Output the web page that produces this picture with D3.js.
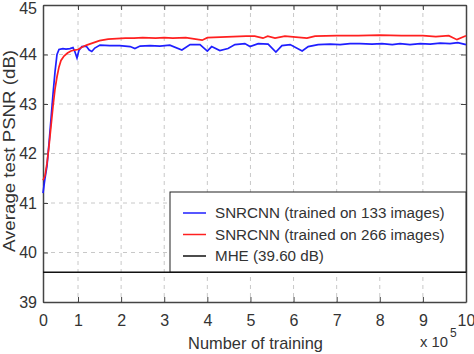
<!DOCTYPE html>
<html><head><meta charset="utf-8">
<script src="https://cdn.jsdelivr.net/npm/d3@7"></script>
<style>body{margin:0;background:#fff}svg text{font-family:"Liberation Sans",Arial,sans-serif;fill:#333}</style>
</head><body><svg id="c" width="474" height="354"></svg>
<script>
const xTicks=[0,1,2,3,4,5,6,7,8,9,10];
const yTicks=[39,40,41,42,43,44,45];
const blueX=[0,0.057,0.114,0.171,0.229,0.286,0.343,0.4,0.457,0.571,0.657,0.771,0.857,0.914,0.971,1.02,1.09,1.19,1.26,1.32,1.39,1.51,1.74,1.97,2.21,2.32,2.44,2.67,2.9,3.13,3.41,3.6,3.83,4.0,4.1,4.29,4.48,4.64,4.87,4.99,5.18,5.41,5.59,5.73,5.92,6.2,6.34,6.57,6.85,7.08,7.31,7.54,7.82,8.05,8.29,8.47,8.7,8.94,9.17,9.4,9.63,9.81,10];
const blueY=[41.2,41.5,41.75,42.2,42.7,43.2,43.65,44.0,44.1,44.12,44.11,44.12,44.14,44.05,43.93,44.08,44.16,44.17,44.09,44.06,44.13,44.19,44.18,44.18,44.16,44.12,44.17,44.18,44.17,44.19,44.09,44.2,44.2,44.07,44.16,44.08,44.12,44.2,44.22,44.16,44.22,44.21,44.05,44.18,44.2,44.07,44.16,44.2,44.21,44.2,44.22,44.22,44.21,44.22,44.2,44.22,44.2,44.22,44.21,44.23,44.22,44.24,44.2];
const redX=[0,0.057,0.114,0.171,0.229,0.286,0.343,0.4,0.457,0.514,0.6,0.7,0.8,0.9,1.0,1.1,1.2,1.3,1.4,1.5,1.7,1.9,2.1,2.3,2.5,2.8,3.0,3.2,3.5,3.88,4.0,4.3,4.6,4.9,5.1,5.29,5.4,5.57,5.8,6.31,6.5,7.0,7.5,8.0,8.5,9.0,9.3,9.6,9.79,10];
const redY=[41.46,41.55,41.8,42.15,42.55,42.95,43.3,43.55,43.75,43.88,43.97,44.03,44.07,44.09,44.1,44.15,44.19,44.22,44.25,44.28,44.31,44.32,44.33,44.33,44.34,44.33,44.34,44.33,44.34,44.29,44.34,44.35,44.36,44.37,44.37,44.33,44.37,44.33,44.37,44.33,44.37,44.38,44.38,44.39,44.38,44.38,44.36,44.38,44.3,44.38];
const mheValue=39.60;
const legendLabels=["SNRCNN (trained on 133 images)","SNRCNN (trained on 266 images)","MHE (39.60 dB)"];
const colors=["#1f1fff","#ff2020","#111"];

const svg=d3.select("#c");
const L=43,R=466,T=5,B=302;
const x=d3.scaleLinear().domain([0,1,10]).range([L,78,R]);
const y=d3.scaleLinear().domain([39,45]).range([B,T]);
const FF="'Liberation Sans',Arial,sans-serif";

// grid
const g=svg.append("g");
g.selectAll(".gx").data(xTicks.slice(1,-1)).join("line").attr("x1",d=>x(d)).attr("x2",d=>x(d)).attr("y1",T).attr("y2",B)
 .attr("stroke","#c8c8c8").attr("stroke-dasharray","4,4").attr("stroke-width",1);
g.selectAll(".gy").data(yTicks.slice(1,-1)).join("line").attr("y1",d=>y(d)).attr("y2",d=>y(d)).attr("x1",L).attr("x2",R)
 .attr("stroke","#c8c8c8").attr("stroke-dasharray","4,4").attr("stroke-width",1);

// axes with inward ticks
const ax=(gen,tr)=>svg.append("g").attr("transform",tr).call(gen);
const fmt=d3.format("d");
const xb=ax(d3.axisBottom(x).tickValues(xTicks).tickSizeInner(-5).tickSizeOuter(0).tickPadding(13).tickFormat(fmt),`translate(0,${B})`);
const xt=ax(d3.axisTop(x).tickValues(xTicks).tickSizeInner(-5).tickSizeOuter(0).tickFormat(""),`translate(0,${T})`);
const yl=ax(d3.axisLeft(y).tickValues(yTicks).tickSizeInner(-5).tickSizeOuter(0).tickPadding(6).tickFormat(fmt),`translate(${L},0)`);
const yr=ax(d3.axisRight(y).tickValues(yTicks).tickSizeInner(-5).tickSizeOuter(0).tickFormat(""),`translate(${R},0)`);
[xb,xt,yl,yr].forEach(a=>{a.selectAll("path").attr("stroke","#444").attr("stroke-width",1.5);
 a.selectAll("line").attr("stroke","#444").attr("stroke-width",1);
 a.selectAll("text").attr("font-size",16).attr("fill","#333").style("font-family",FF);});
yl.selectAll(".tick text").filter(d=>d===45).attr("y",3);

// data lines
const line=d3.line().x(d=>x(d[0])).y(d=>y(d[1]));
const dl=svg.append("g");
dl.append("path").datum(blueX.map((v,i)=>[v,blueY[i]])).attr("d",line).attr("fill","none").attr("stroke",colors[0]).attr("stroke-width",1.7);
dl.append("path").datum(redX.map((v,i)=>[v,redY[i]])).attr("d",line).attr("fill","none").attr("stroke",colors[1]).attr("stroke-width",1.7);

// legend box
const lg=svg.append("g");
lg.append("rect").attr("x",170).attr("y",192).attr("width",R-170).attr("height",y(mheValue)-192).attr("fill","#fff").attr("stroke","#222").attr("stroke-width",1);
legendLabels.forEach((t,i)=>{
  const cy=213+i*21.5;
  lg.append("line").attr("x1",183).attr("x2",206).attr("y1",cy).attr("y2",cy).attr("stroke",colors[i]).attr("stroke-width",1.5);
  lg.append("text").attr("x",215).attr("y",cy+5.3).attr("font-size",15.2).text(t);
});
// MHE line
svg.append("line").attr("x1",x(0)).attr("x2",x(10)).attr("y1",y(mheValue)).attr("y2",y(mheValue)).attr("stroke",colors[2]).attr("stroke-width",1.6);

// labels
svg.append("text").attr("transform",`translate(15,151) rotate(-90) scale(1.14,1)`).attr("text-anchor","middle").attr("font-size",16.4).text("Average test PSNR (dB)");
svg.append("text").attr("x",255.5).attr("y",349).attr("text-anchor","middle").attr("font-size",16.4).text("Number of training");
svg.append("text").attr("x",420).attr("y",347).attr("font-size",14.8).text("x 10");
svg.append("text").attr("x",450).attr("y",337).attr("font-size",12).text("5");
</script></body></html>
